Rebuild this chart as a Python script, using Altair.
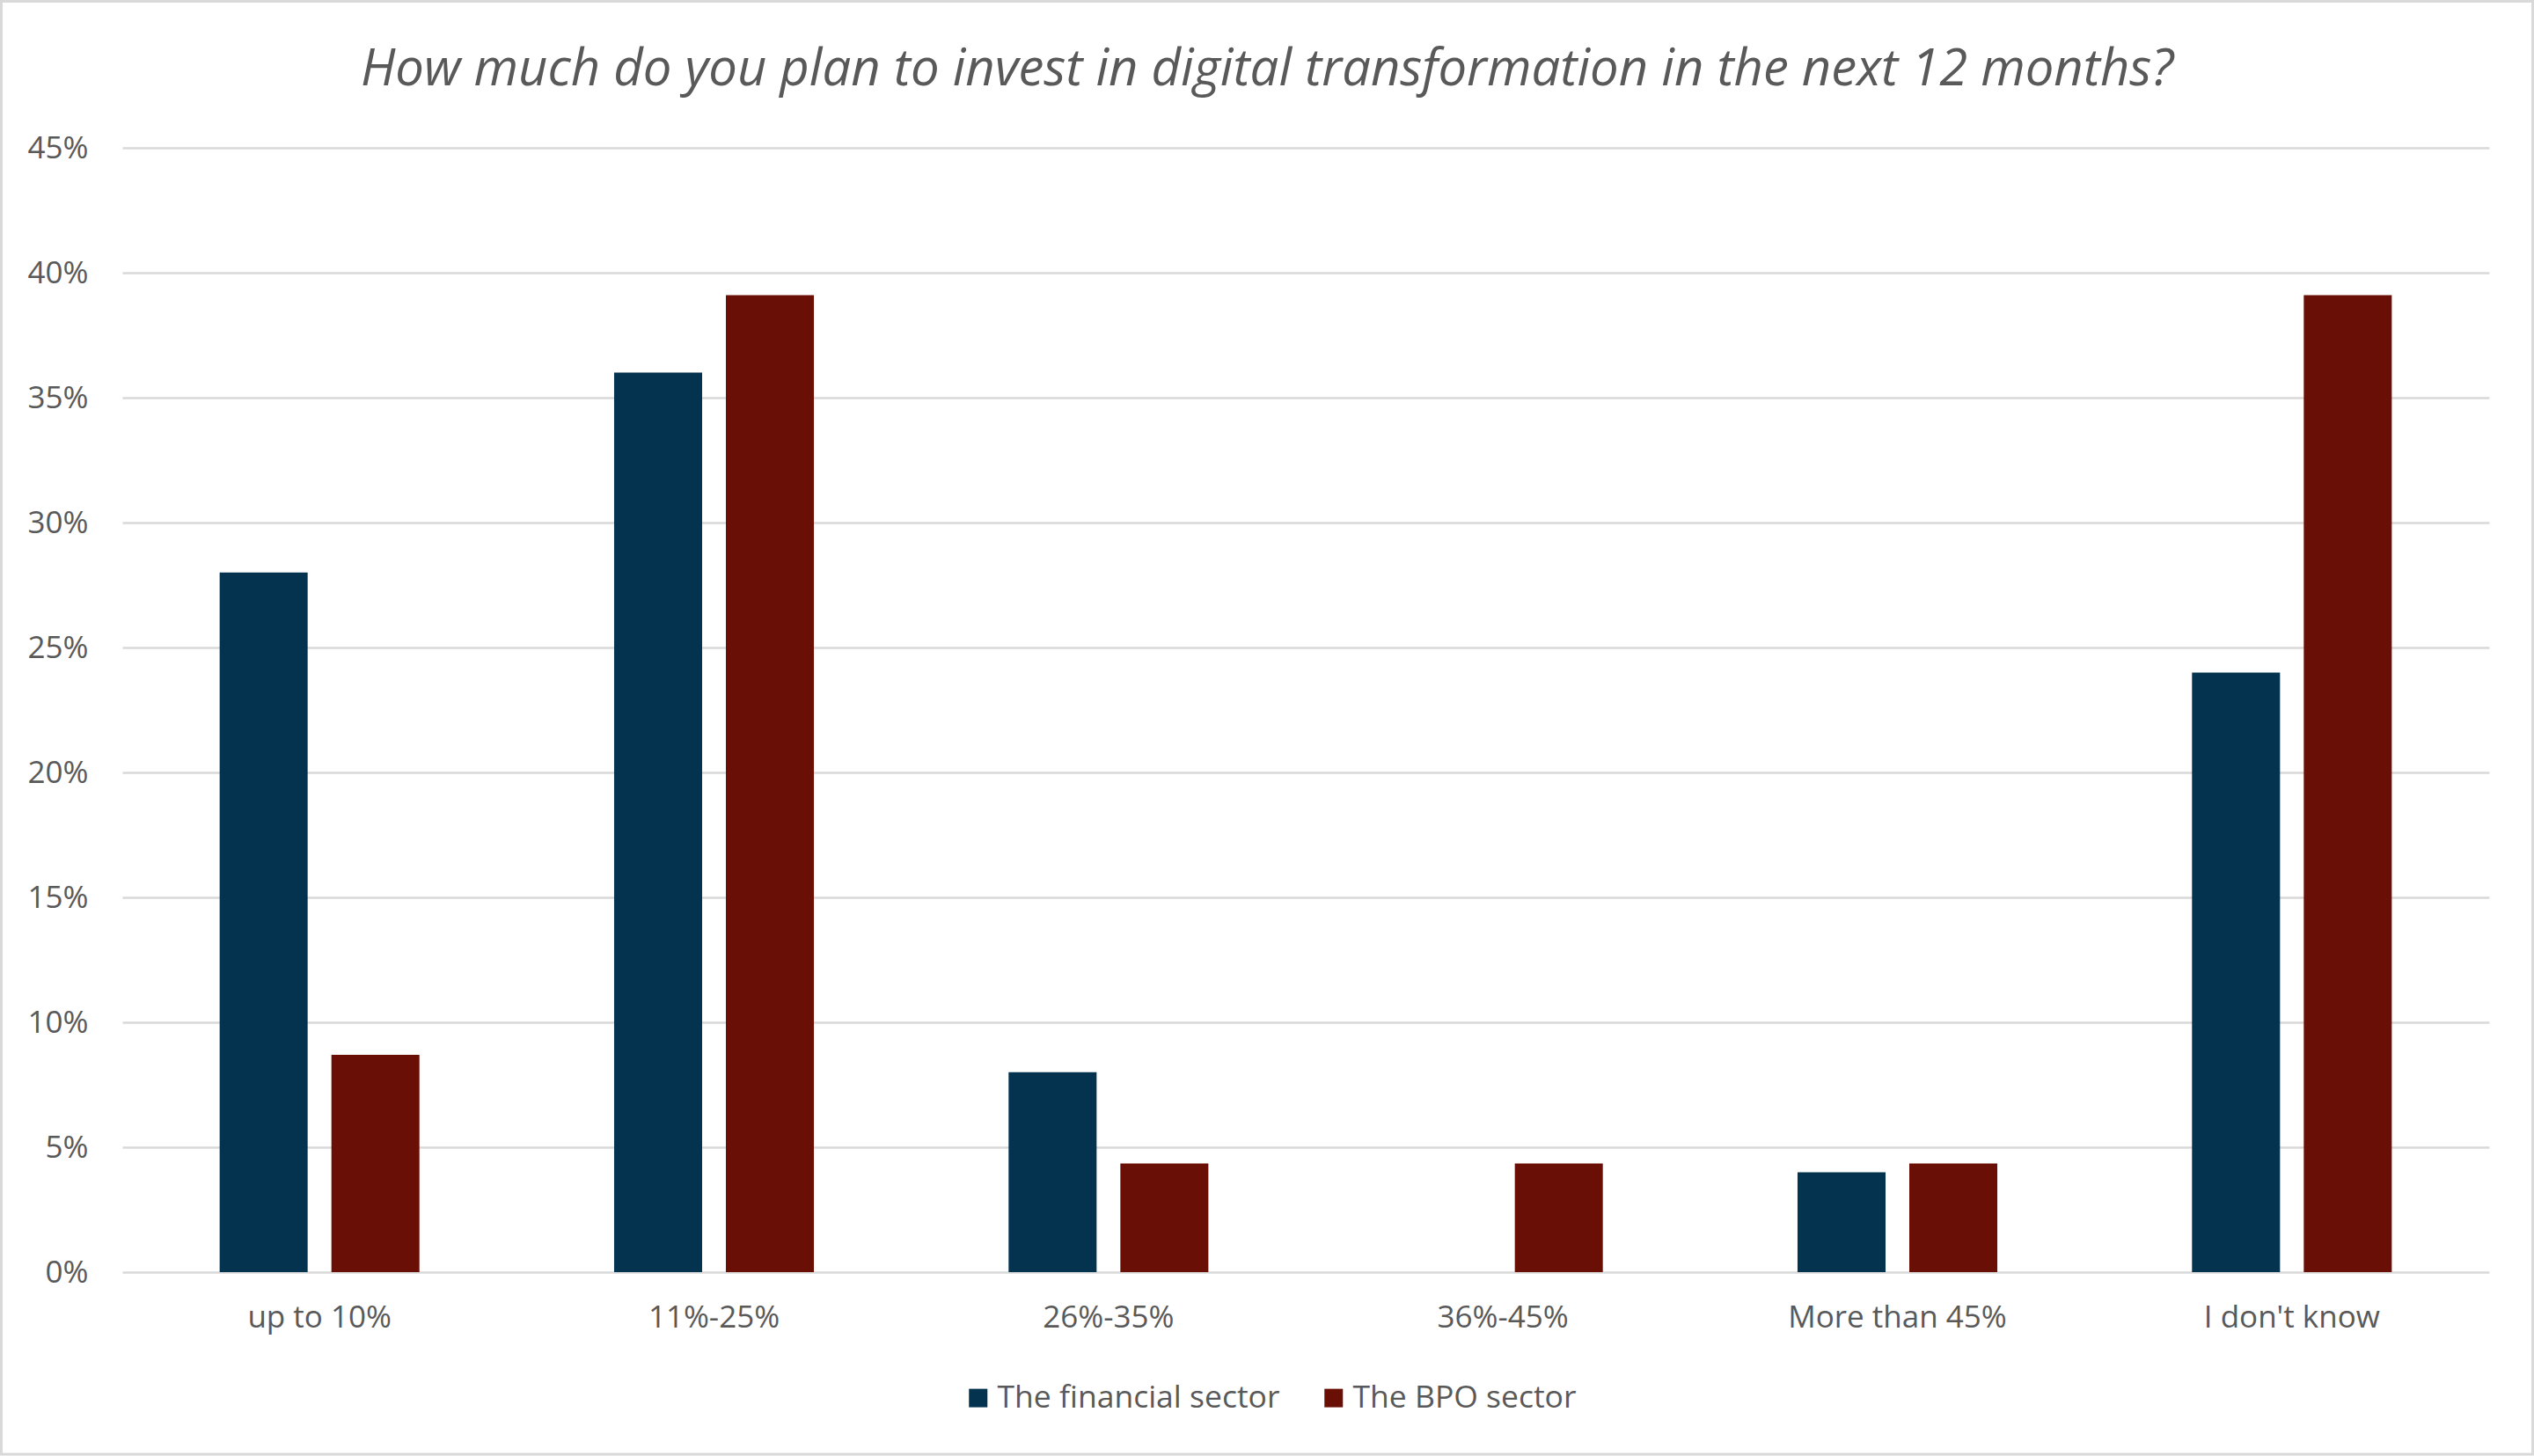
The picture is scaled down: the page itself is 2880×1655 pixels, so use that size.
import altair as alt
import pandas as pd

# Survey answers: share of respondents per planned investment bracket
categories = ["up to 10%", "11%-25%", "26%-35%", "36%-45%", "More than 45%", "I don't know"]
series_names = ["The financial sector", "The BPO sector"]
financial = [28, 36, 8, 0, 4, 24]
bpo = [8.7, 39.1, 4.35, 4.35, 4.35, 39.1]
y_ticks = [0, 5, 10, 15, 20, 25, 30, 35, 40, 45]
colors = ["#03334F", "#6A0F06"]

rows = []
for cat, f, b in zip(categories, financial, bpo):
    rows.append({"bracket": cat, "sector": series_names[0], "share": f / 100})
    rows.append({"bracket": cat, "sector": series_names[1], "share": b / 100})
df = pd.DataFrame(rows)

FONT = "Open Sans"
TEXT = "#595959"
GRID = "#D9D9D9"

bars = alt.Chart(df).mark_bar(clip=False).encode(
    x=alt.X(
        "bracket:N",
        sort=categories,
        title=None,
        scale=alt.Scale(paddingInner=0, paddingOuter=0),
        axis=alt.Axis(
            labelAngle=0,
            labelFontSize=35,
            labelFont=FONT,
            labelColor=TEXT,
            labelPadding=34,
            labelLimit=0,
            ticks=False,
            tickSize=0,
            domain=False,
            grid=False,
        ),
    ),
    xOffset=alt.XOffset(
        "sector:N",
        sort=series_names,
        scale=alt.Scale(paddingInner=0.2126, paddingOuter=0.871),
    ),
    y=alt.Y(
        "share:Q",
        title=None,
        scale=alt.Scale(domain=[0, 0.45], nice=False, zero=True),
        axis=alt.Axis(
            values=[v / 100 for v in y_ticks],
            format=".0%",
            labelFontSize=35,
            labelFont=FONT,
            labelColor=TEXT,
            labelPadding=39,
            ticks=False,
            tickSize=0,
            domain=False,
            grid=True,
            gridColor=GRID,
            gridWidth=2.5,
        ),
    ),
    color=alt.Color(
        "sector:N",
        sort=series_names,
        scale=alt.Scale(domain=series_names, range=colors),
        legend=alt.Legend(
            title=None,
            orient="none",
            direction="horizontal",
            legendX=955,
            legendY=1403,
            symbolType="square",
            symbolSize=441,
            symbolStrokeWidth=0,
            labelFontSize=35.5,
            labelFont=FONT,
            labelColor=TEXT,
            labelOffset=4,
            labelLimit=0,
            columnPadding=43,
            padding=0,
        ),
    ),
)

# light outer frame around the whole figure
frame = alt.Chart(pd.DataFrame({"k": [0]})).mark_rect(
    filled=False, stroke=GRID, strokeWidth=3, clip=False
).encode(
    x=alt.value(-137.5),
    x2=alt.value(2739.5),
    y=alt.value(-166.5),
    y2=alt.value(1485),
)

chart = alt.layer(bars, frame).properties(
    width=2690,
    height=1278,
    autosize=alt.AutoSizeParams(type="none"),
    padding={"left": 139, "top": 168, "right": 51, "bottom": 209},
    background="white",
    title=alt.TitleParams(
        "How much do you plan to invest in digital transformation in the next 12 months?",
        font=FONT,
        fontSize=58,
        fontStyle="italic",
        fontWeight="normal",
        color=TEXT,
        anchor="middle",
        frame="group",
        baseline="alphabetic",
        offset=-155,
        dx=-44,
    ),
).configure_view(stroke=None)

chart.save("out.html", embed_options={"renderer": "svg", "actions": False})
